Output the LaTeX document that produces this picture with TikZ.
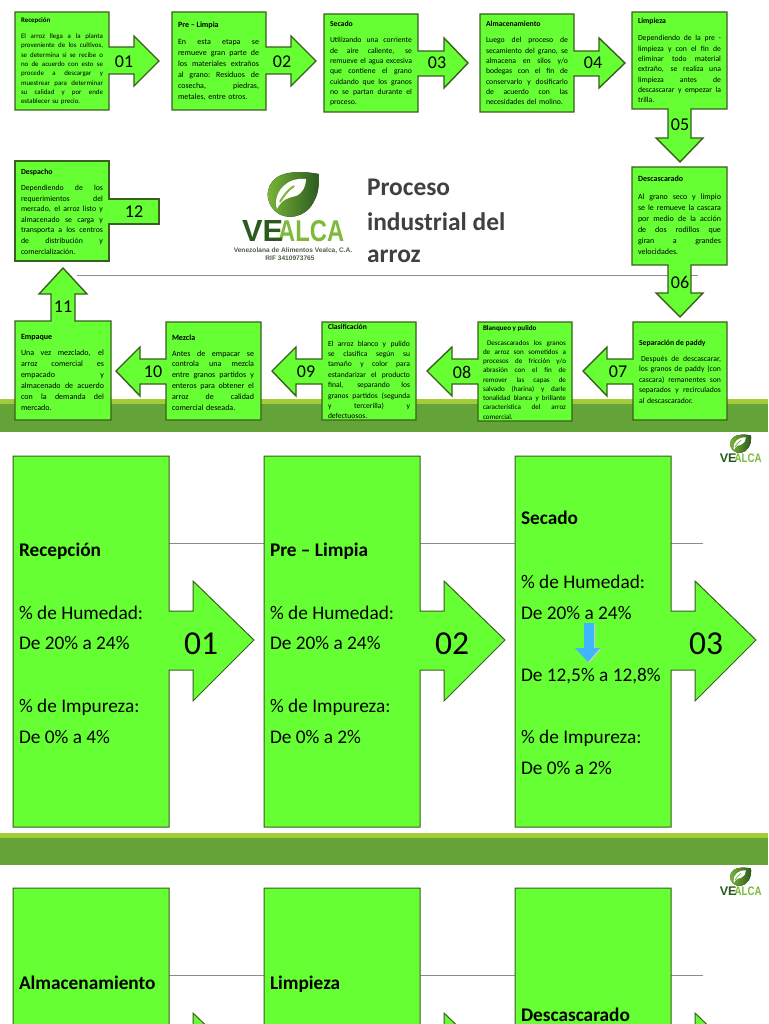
\documentclass[tikz,border=0pt]{standalone}
\usepackage{fontspec}
\usepackage{graphicx}
\setmainfont{Carlito}
\newfontfamily\logofont{Liberation Sans}
\definecolor{boxfill}{HTML}{66FF33}
\definecolor{boxedge}{HTML}{3B5F1F}
\definecolor{bandlight}{HTML}{A2CC3A}
\definecolor{banddark}{HTML}{64A338}
\definecolor{rule}{HTML}{8C8C8C}
\definecolor{titlegray}{HTML}{404040}
\definecolor{logodark}{HTML}{2B5A1E}
\definecolor{logolight}{HTML}{7DB93A}
\definecolor{dropblue}{HTML}{3FB4FF}
\definecolor{subgray}{HTML}{4F5F4A}
\tikzset{
 smallshape/.style={draw=boxedge,fill=boxfill,line width=1.4pt,line join=miter},
 bigshape/.style={draw=boxedge,fill=boxfill,line width=1pt,line join=miter},
 txt/.style={inner sep=0pt,outer sep=0pt,anchor=base west,text=black},
 smallnum/.style={inner sep=0pt,font=\fontsize{18}{18}\selectfont,text=black},
 bignum/.style={inner sep=0pt,font=\fontsize{33.5}{33.5}\selectfont,text=black},
 bighead/.style={txt,font=\fontsize{19.3}{19.3}\selectfont\bfseries},
 bigtext/.style={txt,font=\fontsize{19.3}{19.3}\selectfont},
 hairline/.style={draw=rule,line width=0.9pt},
 titletext/.style={txt,text=titlegray,font=\fontsize{25.4}{33}\selectfont\bfseries},
 subtext/.style={inner sep=0pt,anchor=base,text=subgray,font=\fontsize{6.6}{6.6}\selectfont\logofont\bfseries},
}
\newcommand\J[1]{\hbox to \hsize{\spaceskip=.226em plus 1fil minus .05em\xspaceskip=\spaceskip #1}\par}
\newcommand\JL[1]{\hbox to \hsize{#1\hfil}\par}
% #1 name, #2 x, #3 title baseline, #4 title, #5 first baseline, #6 width, #7 size, #8 step, #9 lines
\newcommand\cardtext[9]{%
 \node[txt,font=\fontsize{#7}{#7}\selectfont\bfseries] (#1t) at (#2,#3) {#4};
 \node[txt,text width=#6pt,font=\fontsize{#7}{#8}\selectfont] (#1b) at (#2,#5) {#9};
}
% logo: #1 name, #2 leaf centre x, #3 top y, #4 scale
\newcommand\vealcalogo[4]{%
 \begin{scope}[shift={(#2,#3)},scale=#4]
  \fill[left color=logolight,right color=logodark]
    (25.5,1) .. controls (26,12) and (26,20) .. (20,30)
    .. controls (12,45) and (-8,48) .. (-18,38)
    .. controls (-28,28) and (-28,14) .. (-17,5)
    .. controls (-8,-2) and (10,-2) .. (25.5,1) -- cycle;
  \fill[white] (13,6) .. controls (-5,4) and (-18,17) .. (-17,32)
    -- (-16,36) .. controls (-11,26) and (-5,25) .. (3,23)
    .. controls (10,20) and (13,13) .. (13,6) -- cycle;
  \draw[logolight,line width=#4*2pt] (-13,29) .. controls (-9,22) and (-5,17) .. (1,13);
  \node[inner sep=0pt,anchor=base west,text=logolight,font=\logofont\bfseries] (#1a) at (-15,68)
    {\resizebox{#4\dimexpr 66pt\relax}{#4\dimexpr 21pt\relax}{ALCA}};
  \node[inner sep=0pt,anchor=base west,text=logodark,font=\logofont\bfseries] (#1v) at (-51,68)
    {\resizebox{#4\dimexpr 41pt\relax}{#4\dimexpr 21pt\relax}{VE}};
 \end{scope}
}
\begin{document}
\begin{tikzpicture}[x=1pt,y=-1pt]
\useasboundingbox (0,0) rectangle (768,1024);
\clip (0,0) rectangle (768,1024);
\fill[white] (0,0) rectangle (768,1024);
% bands
\fill[bandlight] (0,399) rectangle (768,404);
\fill[banddark] (0,404) rectangle (768,432);
\fill[bandlight] (0,833) rectangle (768,838);
\fill[banddark] (0,838) rectangle (768,865);
% rules
\coordinate (ra) at (77,275); \coordinate (rb) at (698,275);
\draw[hairline] (ra) -- (rb);
\foreach \yy in {543,975}{\draw[hairline] (169,\yy) -- (264,\yy) (420,\yy) -- (515,\yy) (671,\yy) -- (703,\yy);}
% small cards
\draw[smallshape] (15,12) -- (109,12) -- (109,47) -- (134,47) -- (134,36) -- (159,61) -- (134,86) -- (134,74) -- (109,74) -- (109,110) -- (15,110) -- cycle;
\draw[smallshape] (172,12) -- (266,12) -- (266,47) -- (291,47) -- (291,36) -- (316,61) -- (291,86) -- (291,74) -- (266,74) -- (266,110) -- (172,110) -- cycle;
\draw[smallshape] (324,14) -- (418,14) -- (418,51) -- (444,51) -- (444,38) -- (468,63) -- (444,88) -- (444,76) -- (418,76) -- (418,112) -- (324,112) -- cycle;
\draw[smallshape] (480,14) -- (574,14) -- (574,51) -- (599,51) -- (599,38) -- (625,63) -- (599,88) -- (599,76) -- (574,76) -- (574,112) -- (480,112) -- cycle;
\draw[smallshape] (632,12) -- (727,12) -- (727,109) -- (691,109) -- (691,138) -- (703,138) -- (680,162) -- (656,138) -- (668,138) -- (668,109) -- (632,109) -- cycle;
\draw[smallshape] (632,167) -- (727,167) -- (727,265) -- (691,265) -- (691,293) -- (703,293) -- (680,317) -- (656,293) -- (668,293) -- (668,265) -- (632,265) -- cycle;
\draw[smallshape] (727,322) -- (633,322) -- (633,359) -- (607,359) -- (607,347) -- (583,371) -- (607,396) -- (607,384) -- (633,384) -- (633,420) -- (727,420) -- cycle;
\draw[smallshape] (572,322) -- (478,322) -- (478,359) -- (452,359) -- (452,347) -- (427,371) -- (452,396) -- (452,384) -- (478,384) -- (478,421) -- (572,421) -- cycle;
\draw[smallshape] (416,322) -- (322,322) -- (322,359) -- (296,359) -- (296,347) -- (272,371) -- (296,396) -- (296,384) -- (322,384) -- (322,420) -- (416,420) -- cycle;
\draw[smallshape] (261,322) -- (166,322) -- (166,359) -- (140,359) -- (140,347) -- (116,371) -- (140,396) -- (140,384) -- (166,384) -- (166,420) -- (261,420) -- cycle;
\draw[smallshape] (15,321) -- (51,321) -- (51,294) -- (39,294) -- (63,268) -- (87,294) -- (75,294) -- (75,321) -- (111,321) -- (111,420) -- (15,420) -- cycle;
\draw[smallshape] (15,161) -- (109,161) -- (109,199) -- (159,199) -- (159,224) -- (109,224) -- (109,261) -- (15,261) -- cycle;
% numbers
\node[smallnum] (n01) at (124,62) {01};
\node[smallnum] (n02) at (282,62) {02};
\node[smallnum] (n03) at (437,63) {03};
\node[smallnum] (n04) at (593,63) {04};
\node[smallnum] (n05) at (680,125) {05};
\node[smallnum] (n06) at (680,282) {06};
\node[smallnum] (n07) at (618,372) {07};
\node[smallnum] (n08) at (462,372) {08};
\node[smallnum] (n09) at (306,372) {09};
\node[smallnum] (n10) at (153,372) {10};
\node[smallnum] (n11) at (63,307) {11};
\node[smallnum] (n12) at (134,212) {12};
% card text
\cardtext{c1}{21}{22.5}{Recepción}{38.5}{82}{6.9}{9.35}{\J{El arroz llega a la planta}\J{proveniente de los cultivos,}\J{se determina si se recibe o}\J{no de acuerdo con esto se}\J{procede a descargar y}\J{muestrear para determinar}\J{su calidad y por ende}\JL{establecer su precio.}}
\cardtext{c2}{178}{28}{Pre – Limpia}{45}{81}{8}{11}{\J{En esta etapa se}\J{remueve gran parte de}\J{los materiales extraños}\J{al grano: Residuos de}\J{cosecha, piedras,}\JL{metales, entre otros.}}
\cardtext{c3}{330}{27}{Secado}{43}{82}{7.7}{10.3}{\J{Utilizando una corriente}\J{de aire caliente, se}\J{remueve el agua excesiva}\J{que contiene el grano}\J{cuidando que los granos}\J{no se partan durante el}\JL{proceso.}}
\cardtext{c4}{486}{27}{Almacenamiento}{43}{82}{7.7}{10.3}{\J{Luego del proceso de}\J{secamiento del grano, se}\J{almacena en silos y/o}\J{bodegas con el fin de}\J{conservarlo y dosificarlo}\J{de acuerdo con las}\JL{necesidades del molino.}}
\cardtext{c5}{638}{24}{Limpieza}{41}{83}{7.7}{10.3}{\J{Dependiendo de la pre -}\J{limpieza y con el fin de}\J{eliminar todo material}\J{extraño, se realiza una}\J{limpieza antes de}\J{descascarar y empezar la}\JL{trilla.}}
\cardtext{c6}{638}{182}{Descascarado}{200}{83}{8}{11}{\J{Al grano seco y limpio}\J{se le remueve la cascara}\J{por medio de la acción}\J{de dos rodillos que}\J{giran a grandes}\JL{velocidades.}}
\cardtext{c7}{639}{345}{Separación de paddy}{361}{82}{7.7}{10.5}{\J{\kern 2pt Después de descascarar,}\J{los granos de paddy (con}\J{cascara) remanentes son}\J{separados y recirculados}\JL{al descascarador.}}
\cardtext{c8}{483}{330}{Blanqueo y pulido}{345}{83}{7.1}{9.25}{\J{\kern 4pt Descascarados los granos}\J{de arroz son sometidos a}\J{procesos de fricción y/o}\J{abrasión con el fin de}\J{remover las capas de}\J{salvado (harina) y darle}\J{tonalidad blanca y brillante}\J{característica del arroz}\JL{comercial.}}
\cardtext{c9}{328}{329}{Clasificación}{346}{82}{7.6}{10.4}{\J{El arroz blanco y pulido}\J{se clasifica según su}\J{tamaño y color para}\J{estandarizar el producto}\J{final, separando los}\J{granos partidos (segunda}\J{y tercerilla) y}\JL{defectuosos.}}
\cardtext{c10}{172}{340}{Mezcla}{356}{82}{8}{10.8}{\J{Antes de empacar se}\J{controla una mezcla}\J{entre granos partidos y}\J{enteros para obtener el}\J{arroz de calidad}\JL{comercial deseada.}}
\cardtext{c11}{21}{339}{Empaque}{355}{83}{8}{11}{\J{Una vez mezclado, el}\J{arroz comercial es}\J{empacado y}\J{almacenado de acuerdo}\J{con la demanda del}\JL{mercado.}}
\cardtext{c12}{21}{175}{Despacho}{191}{82}{7.8}{10.5}{\J{Dependiendo de los}\J{requerimientos del}\J{mercado, el arroz listo y}\J{almacenado se carga y}\J{transporta a los centros}\J{de distribución y}\JL{comercialización.}}
% title
\node[titletext] (title1) at (367,196) {Proceso};
\node[titletext] (title2) at (367,230) {industrial del};
\node[titletext] (title3) at (367,262) {arroz};
% logos
\vealcalogo{lg}{293}{173}{1}
\node[subtext] (lgs) at (293,252) {Venezolana de Alimentos Vealca, C.A.};
\node[subtext] (lgr) at (290,260) {RIF 3410973765};
\vealcalogo{lgb}{740.5}{435}{0.41}
\vealcalogo{lgc}{740.5}{868}{0.41}
% big cards row 1
\foreach \xa/\nm in {13/a,264/b,515/c}{
 \draw[bigshape] (\xa,456) -- (\xa+156,456) -- (\xa+156,611) -- (\xa+180,611) -- (\xa+180,581) -- (\xa+241,640) -- (\xa+180,701) -- (\xa+180,670) -- (\xa+156,670) -- (\xa+156,827) -- (\xa,827) -- cycle;
}
\node[bignum] (b01) at (201,644) {01};
\node[bignum] (b02) at (452,644) {02};
\node[bignum] (b03) at (706,644) {03};
\node[bighead] (ah) at (19,556) {Recepción};
\node[bigtext] (a1) at (19,619) {\% de Humedad:};
\node[bigtext] (a2) at (19,649) {De 20\% a 24\%};
\node[bigtext] (a3) at (19,712) {\% de Impureza:};
\node[bigtext] (a4) at (19,743) {De 0\% a 4\%};
\node[bighead] (bh) at (270,556) {Pre – Limpia};
\node[bigtext] (b1) at (270,619) {\% de Humedad:};
\node[bigtext] (b2) at (270,649) {De 20\% a 24\%};
\node[bigtext] (b3) at (270,712) {\% de Impureza:};
\node[bigtext] (b4) at (270,743) {De 0\% a 2\%};
\node[bighead] (ch) at (521,524.5) {Secado};
\node[bigtext] (c1) at (521,588) {\% de Humedad:};
\node[bigtext] (c2) at (521,619) {De 20\% a 24\%};
\node[bigtext] (c3) at (521,681) {De 12,5\% a 12,8\%};
\node[bigtext] (c4) at (521,743) {\% de Impureza:};
\node[bigtext] (c5) at (521,774) {De 0\% a 2\%};
\fill[black!20] (585,624) -- (595,624) -- (595,649) -- (601,649) -- (589,663) -- (577,649) -- (585,649) -- cycle;
\fill[dropblue] (584,623) -- (594,623) -- (594,648) -- (600,648) -- (588,662) -- (575,648) -- (584,648) -- cycle;
% big cards row 2
\foreach \xa in {13,264,515}{
 \draw[bigshape] (\xa,888) -- (\xa+156,888) -- (\xa+156,1043) -- (\xa+180,1043) -- (\xa+180,1013) -- (\xa+241,1072) -- (\xa+180,1133) -- (\xa+180,1102) -- (\xa+156,1102) -- (\xa+156,1140) -- (\xa,1140) -- cycle;
}
\node[bighead] (dh) at (19,989) {Almacenamiento};
\node[bighead] (eh) at (270,989) {Limpieza};
\node[bighead] (fh) at (521,1021) {Descascarado};
\end{tikzpicture}
\end{document}
